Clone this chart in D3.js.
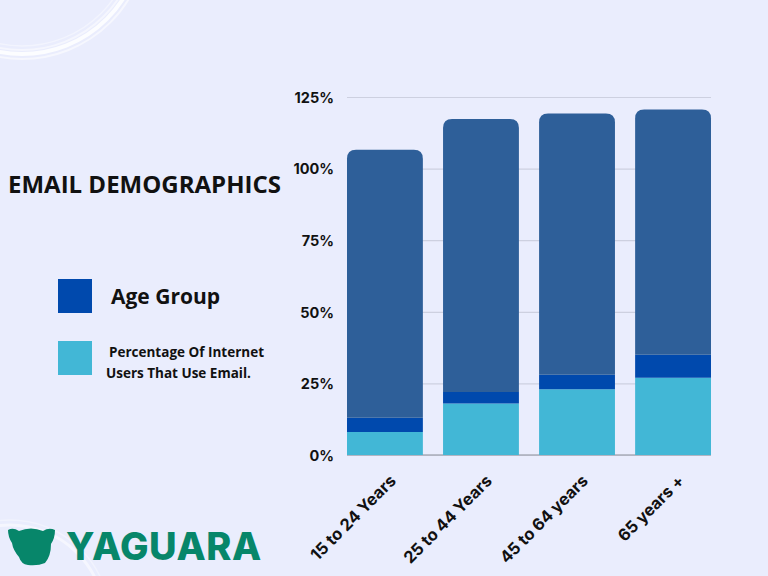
<!DOCTYPE html>
<html>
<head>
<meta charset="utf-8">
<script src="https://cdn.jsdelivr.net/npm/d3@7"></script>
<style>
  html, body { margin: 0; padding: 0; background: #eaedfd; }
  svg { display: block; font-family: 'Open Sans', 'DejaVu Sans', sans-serif; }
  .tick text { font-weight: 700; fill: #111; }
</style>
</head>
<body>
<svg id="chart" width="768" height="576"></svg>
<script>
// data
const categories = ['15 to 24 Years', '25 to 44 Years', '45 to 64 years', '65 years +']
const emailUsers = [8, 18, 23, 27]
const ageGroup = [5, 4, 5, 8]
const remainder = [93.6, 95.3, 91.2, 85.6]
const yTicks = [0, 25, 50, 75, 100, 125]

const keys = ['email', 'age', 'rest']
const colors = { email: '#42b7d6', age: '#0049ad', rest: '#2e5f99' }
const rows = categories.map((c, i) => ({
  label: c, email: emailUsers[i], age: ageGroup[i], rest: remainder[i],
}))

const svg = d3.select('#chart')
const width = 768, height = 576

// background swirls
const deco = svg.append('g').attr('fill', 'none').attr('stroke', '#ffffff')
;[[120, 4, 0.85], [116, 2, 0.5], [125, 2, 0.55], [112, 1.5, 0.4]].forEach(([r, w, o]) => {
  deco.append('circle').attr('cx', 22).attr('cy', -66).attr('r', r)
    .attr('stroke-width', w).attr('stroke-opacity', o)
})
;[[95, 3, 0.5], [100, 1.5, 0.35]].forEach(([r, w, o]) => {
  deco.append('circle').attr('cx', 10).attr('cy', 620).attr('r', r)
    .attr('stroke-width', w).attr('stroke-opacity', o)
})

const margin = { top: 97, left: 347, right: 57, bottom: 121 }
const innerW = width - margin.left - margin.right
const innerH = height - margin.top - margin.bottom

const x = d3.scaleBand().domain(categories).range([0, innerW]).paddingInner(0.21).paddingOuter(0)
const y = d3.scaleLinear().domain([0, 125]).range([innerH, 0])

const g = svg.append('g').attr('transform', `translate(${margin.left},${margin.top})`)

// grid
const grid = g.append('g')
  .call(d3.axisLeft(y).tickValues(yTicks).tickSize(-innerW).tickFormat(''))
grid.select('.domain').remove()
grid.selectAll('line').attr('stroke', '#cdd0e0').attr('stroke-width', 1.2)

// baseline
g.append('line').attr('x1', 0).attr('x2', innerW).attr('y1', y(0)).attr('y2', y(0))
  .attr('stroke', '#a9acb8').attr('stroke-width', 1.5)

// y axis
const yAxis = g.append('g')
  .call(d3.axisLeft(y).tickValues(yTicks).tickSize(0).tickPadding(13).tickFormat(d => d + '%'))
yAxis.attr('font-family', 'Inter, sans-serif')
yAxis.select('.domain').remove()
yAxis.selectAll('text').attr('font-size', 14.5).attr('font-weight', 800).attr('dy', '0.36em')

// stacked bars
const stacked = d3.stack().keys(keys)(rows)
const radius = 9
function topRounded(x0, y0, w, h, r) {
  return `M${x0},${y0 + h}V${y0 + r}Q${x0},${y0} ${x0 + r},${y0}H${x0 + w - r}Q${x0 + w},${y0} ${x0 + w},${y0 + r}V${y0 + h}Z`
}
stacked.forEach(layer => {
  const isTop = layer.key === 'rest'
  g.append('g').attr('fill', colors[layer.key])
    .selectAll('path')
    .data(layer)
    .join('path')
    .attr('d', d => {
      const x0 = x(d.data.label), w = x.bandwidth()
      const y0 = y(d[1]), h = y(d[0]) - y(d[1])
      return isTop ? topRounded(x0, y0, w, h, radius) : `M${x0},${y0}h${w}v${h}h${-w}Z`
    })
})

// x axis labels
const xAxis = g.append('g').attr('transform', `translate(0,${innerH})`)
  .call(d3.axisBottom(x).tickSize(0).tickPadding(0))
xAxis.attr('font-family', 'Inter, sans-serif')
xAxis.select('.domain').remove()
xAxis.selectAll('text')
  .attr('font-size', 16.5)
  .attr('font-weight', 800)
  .attr('text-anchor', 'end')
  .attr('dy', 0)
  .attr('transform', 'translate(12,27) rotate(-45)')

// title
svg.append('text').attr('x', 8).attr('y', 193)
  .attr('font-size', 24).attr('font-weight', 700).attr('fill', '#111')
  .text('EMAIL DEMOGRAPHICS')

// legend
const legend = svg.append('g').attr('fill', '#111')
legend.append('rect').attr('x', 58).attr('y', 279).attr('width', 34).attr('height', 34).attr('fill', colors.age)
legend.append('rect').attr('x', 58).attr('y', 341).attr('width', 34).attr('height', 34).attr('fill', colors.email)
legend.append('text').attr('x', 111).attr('y', 304).attr('font-size', 21).attr('font-weight', 700)
  .text('Age Group')
legend.append('text').attr('x', 109).attr('y', 357).attr('font-size', 13.5).attr('font-weight', 700)
  .text('Percentage Of Internet')
legend.append('text').attr('x', 106).attr('y', 378).attr('font-size', 13.5).attr('font-weight', 700)
  .text('Users That Use Email.')

// logo
const logo = svg.append('g').attr('fill', '#07866a')
logo.append('path')
  .attr('d', 'M8,530 Q13,527 19,531 Q31,526 43,531 Q49,527 55,530 Q55,538 51,544 Q51,556 45,563 Q38,566 28,565 Q21,564 19,557 Q13,550 12,543 Q8,537 8,530 Z')
logo.append('text').attr('x', 66).attr('y', 560)
  .attr('font-size', 38).attr('font-weight', 800).attr('font-family', 'Inter, sans-serif')
  .attr('letter-spacing', 0.5).text('YAGUARA')
</script>
</body>
</html>
